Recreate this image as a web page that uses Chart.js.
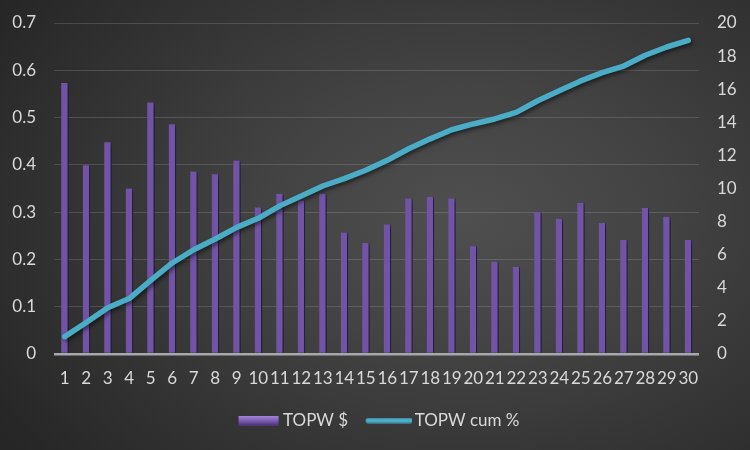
<!DOCTYPE html>
<html>
<head>
<meta charset="utf-8">
<script src="https://cdn.jsdelivr.net/npm/chart.js@4"></script>
<style>
  html, body { margin: 0; padding: 0; }
  body {
    width: 750px; height: 450px; overflow: hidden;
    background: radial-gradient(ellipse 75% 85% at 62% 48%, #4f4f4f 0%, #434343 35%, #333333 70%, #262626 100%);
  }
  #wrap { position: relative; width: 750px; height: 450px; }
</style>
</head>
<body>
<div id="wrap"><canvas id="chart" width="750" height="450"></canvas></div>
<script>
const categories = ['1','2','3','4','5','6','7','8','9','10','11','12','13','14','15',
  '16','17','18','19','20','21','22','23','24','25','26','27','28','29','30'];
const topwValues = [0.573, 0.399, 0.448, 0.350, 0.532, 0.486, 0.386, 0.380, 0.409, 0.310,
  0.339, 0.324, 0.339, 0.257, 0.235, 0.274, 0.329, 0.332, 0.329, 0.228,
  0.195, 0.184, 0.300, 0.286, 0.320, 0.277, 0.241, 0.309, 0.290, 0.241];
const cumValues = [1.05, 1.9, 2.8, 3.35, 4.45, 5.5, 6.3, 6.95, 7.65, 8.2,
  8.95, 9.55, 10.15, 10.6, 11.1, 11.7, 12.4, 13.0, 13.55, 13.9,
  14.2, 14.6, 15.3, 15.9, 16.5, 17.0, 17.4, 18.05, 18.55, 18.95];
const leftTicks = [0, 0.1, 0.2, 0.3, 0.4, 0.5, 0.6, 0.7];
const rightTicks = [0, 2, 4, 6, 8, 10, 12, 14, 16, 18, 20];

const labelColor = '#d9d9d9';
const barColor = '#7254a6';
const lineColor = '#4bacc6';

// legend swatches (drawn into small canvases, placed close to their text)
function makeSwatch(w, h, draw) {
  const c = document.createElement('canvas');
  c.width = w; c.height = h;
  draw(c.getContext('2d'));
  return c;
}
const barSwatch = makeSwatch(56, 10, ctx => {
  const g = ctx.createLinearGradient(0, 0, 0, 10);
  g.addColorStop(0, '#a98ad8');
  g.addColorStop(0.5, '#7f5fb5');
  g.addColorStop(1, '#4a3275');
  ctx.fillStyle = g;
  ctx.fillRect(14, 0, 40, 10);
});
const lineSwatch = makeSwatch(56, 6, ctx => {
  ctx.strokeStyle = lineColor;
  ctx.lineWidth = 5;
  ctx.lineCap = 'round';
  ctx.beginPath();
  ctx.moveTo(12, 3);
  ctx.lineTo(54, 3);
  ctx.stroke();
});

const shadowPlugin = {
  id: 'shadows',
  beforeDatasetDraw(chart) {
    const ctx = chart.ctx;
    ctx.save();
    ctx.shadowColor = 'rgba(0,0,0,0.55)';
    ctx.shadowBlur = 4;
    ctx.shadowOffsetX = 2;
    ctx.shadowOffsetY = 2;
  },
  afterDatasetDraw(chart) {
    chart.ctx.restore();
  }
};

// fixed axis widths; drop the label padding so the plot top follows layout.padding
function fixVertical(width) {
  return scale => {
    scale.width = width;
    scale.paddingTop = 0;
    scale.paddingBottom = 0;
  };
}

new Chart(document.getElementById('chart'), {
  data: {
    labels: categories,
    datasets: [
      {
        type: 'bar',
        label: 'TOPW $',
        data: topwValues,
        yAxisID: 'y',
        backgroundColor: barColor,
        borderColor: '#3b2960',
        borderWidth: { left: 0, right: 1, top: 0, bottom: 0 },
        barThickness: 7,
        order: 2
      },
      {
        type: 'line',
        label: 'TOPW cum %',
        data: cumValues,
        yAxisID: 'y1',
        borderColor: lineColor,
        borderWidth: 5.5,
        borderCapStyle: 'round',
        borderJoinStyle: 'round',
        pointRadius: 0,
        tension: 0,
        order: 1
      }
    ]
  },
  options: {
    responsive: false,
    animation: false,
    layout: { padding: { top: 23, bottom: 11, left: 0, right: 0 } },
    plugins: {
      tooltip: { enabled: false },
      legend: {
        position: 'bottom',
        labels: {
          color: labelColor,
          font: { family: 'Lato', size: 17 },
          usePointStyle: true,
          pointStyleWidth: 44,
          boxHeight: 10,
          padding: 14,
          sort: (a, b) => a.datasetIndex - b.datasetIndex,
          generateLabels(chart) {
            return chart.data.datasets.map((ds, i) => ({
              text: ds.label,
              datasetIndex: i,
              pointStyle: i === 0 ? barSwatch : lineSwatch,
              fontColor: labelColor,
              lineWidth: 0,
              hidden: false
            }));
          }
        }
      }
    },
    scales: {
      x: {
        grid: { display: false, drawTicks: false },
        border: { display: false },
        ticks: {
          color: labelColor,
          font: { family: 'Lato', size: 17 },
          padding: 14,
          maxRotation: 0,
          autoSkip: false
        },
        afterFit(scale) { scale.height = 44; }
      },
      y: {
        position: 'left',
        min: 0,
        max: 0.7,
        afterBuildTicks(scale) { scale.ticks = leftTicks.map(v => ({ value: v })); },
        grid: {
          drawTicks: false,
          color: ctx => ctx.tick && ctx.tick.value === 0 ? '#a8a8a8' : 'rgba(255,255,255,0.14)',
          lineWidth: ctx => ctx.tick && ctx.tick.value === 0 ? 2.5 : 1
        },
        border: { display: false },
        ticks: {
          color: labelColor,
          font: { family: 'Lato', size: 17 },
          padding: 18,
          callback: v => String(Math.round(v * 10) / 10)
        },
        afterFit: fixVertical(54)
      },
      y1: {
        position: 'right',
        min: 0,
        max: 20,
        afterBuildTicks(scale) { scale.ticks = rightTicks.map(v => ({ value: v })); },
        grid: { display: false, drawTicks: false },
        border: { display: false },
        ticks: {
          color: labelColor,
          font: { family: 'Lato', size: 17 },
          padding: 18
        },
        afterFit: fixVertical(51)
      }
    }
  },
  plugins: [shadowPlugin]
});
</script>
</body>
</html>
